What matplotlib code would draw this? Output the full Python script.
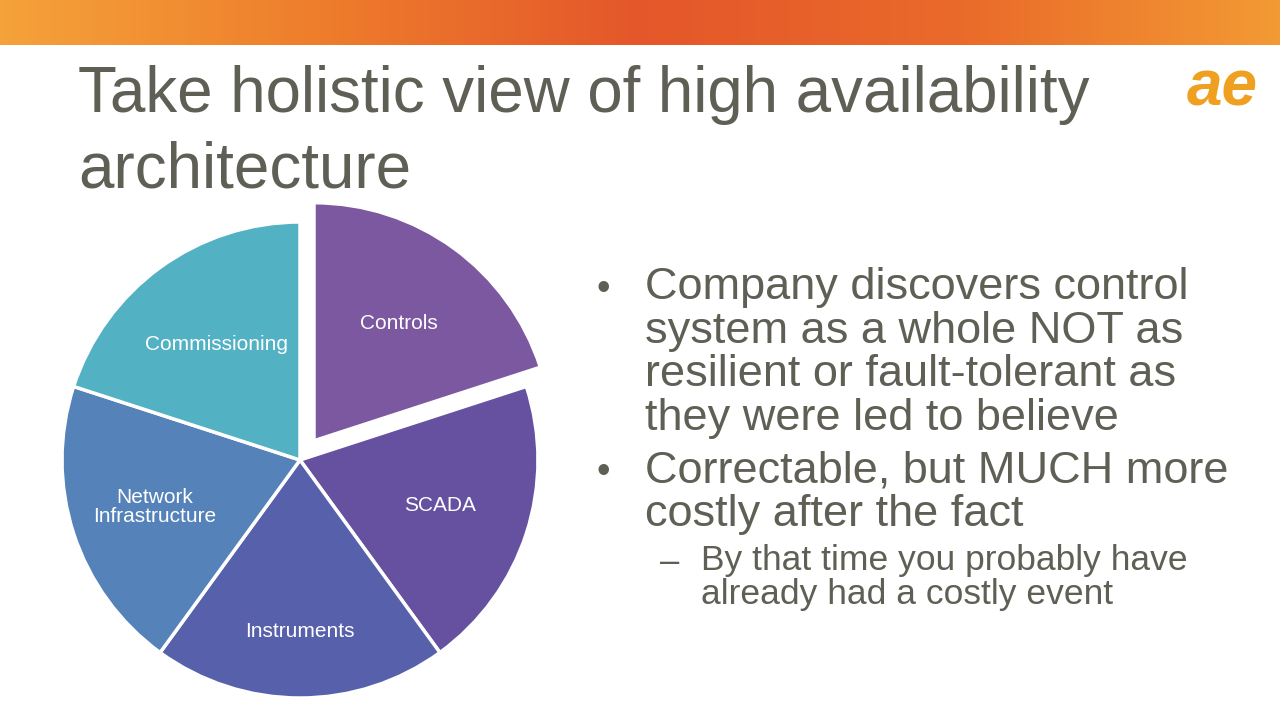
import numpy as np
import matplotlib.pyplot as plt
from matplotlib.colors import LinearSegmentedColormap

plt.rcParams['font.family'] = ['Liberation Sans', 'DejaVu Sans']

labels = ["Controls", "SCADA", "Instruments", "Network\nInfrastructure", "Commissioning"]
values = [1, 1, 1, 1, 1]
colors = ["#7B589F", "#6551A0", "#5760AB", "#5482B9", "#52B1C3"]
explode = [0.1, 0, 0, 0, 0]
label_r = [0.61, 0.62, 0.72, 0.64, 0.6]

title = "Take holistic view of high availability\narchitecture"
bullets = ["Company discovers control\nsystem as a whole NOT as\nresilient or fault-tolerant as\nthey were led to believe",
           "Correctable, but MUCH more\ncostly after the fact"]
sub = "By that time you probably have\nalready had a costly event"

fig = plt.figure(figsize=(12.8, 7.2), dpi=100)
fig.patch.set_facecolor("white")

# top gradient bar
bar = fig.add_axes([0, 1 - 45 / 720, 1, 45 / 720])
cmap = LinearSegmentedColormap.from_list("b", ["#F5A23A", "#EE7D2C", "#E4572A", "#EA6A2A", "#F39A34"])
bar.imshow(np.linspace(0, 1, 256)[None, :], aspect="auto", cmap=cmap, extent=[0, 1, 0, 1])
bar.axis("off")

fig.text(78 / 1280, 1 - 133 / 720, title, fontsize=45.8, color="#5F5F55", va="center", ha="left",
         linespacing=1.34)

# logo
fig.text(1222 / 1280, 1 - 88 / 720, "ae", fontsize=46, color="#F0A020", fontstyle="italic",
         fontweight="bold", ha="center", va="center")

ax = fig.add_axes([62 / 1280, 22 / 720, 476 / 1280, 476 / 720])
wedges, texts = ax.pie(values, labels=labels, colors=colors, explode=explode, startangle=90,
                       counterclock=False, labeldistance=0.64, frame=False,
                       wedgeprops=dict(edgecolor="white", linewidth=2.5),
                       textprops=dict(color="white", fontsize=15, ha="center", va="center"))
# per-label radial position
for w, t, r, ex in zip(wedges, texts, label_r, explode):
    ang = np.deg2rad((w.theta1 + w.theta2) / 2)
    t.set_position(((r + ex) * np.cos(ang), (r + ex) * np.sin(ang)))
    t.set_linespacing(1.0)
ax.set_xlim(-1, 1)
ax.set_ylim(-1, 1)
ax.set_aspect("equal")
ax.axis("off")

tc = "#5F5F55"
fig.text(597 / 1280, 1 - 290 / 720, "•", fontsize=28, color=tc, va="center")
fig.text(645 / 1280, 1 - 267 / 720, bullets[0], fontsize=32.5, color=tc, va="top", linespacing=1.08)
fig.text(597 / 1280, 1 - 473 / 720, "•", fontsize=28, color=tc, va="center")
fig.text(645 / 1280, 1 - 450 / 720, bullets[1], fontsize=32.5, color=tc, va="top", linespacing=1.08)
fig.text(660 / 1280, 1 - 562 / 720, "–", fontsize=25, color=tc, va="center")
fig.text(701 / 1280, 1 - 544 / 720, sub, fontsize=25.5, color=tc, va="top", linespacing=1.04)

fig.savefig("out.png", dpi=100)
